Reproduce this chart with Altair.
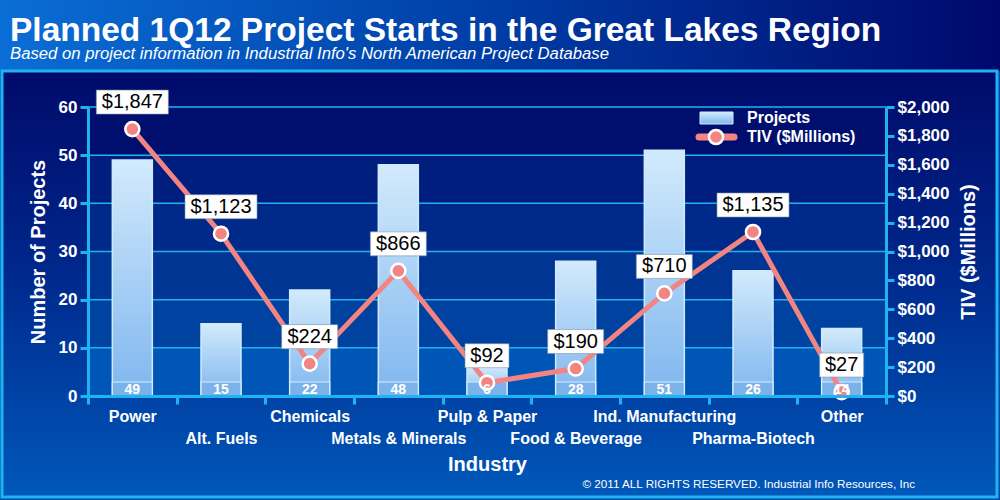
import json
import altair as alt
import pandas as pd

# ---------------- data ----------------
industries = ["Power", "Alt. Fuels", "Chemicals", "Metals & Minerals", "Pulp & Paper",
              "Food & Beverage", "Ind. Manufacturing", "Pharma-Biotech", "Other"]
projects = [49, 15, 22, 48, 6, 28, 51, 26, 14]
tiv = [1847, 1123, 224, 866, 92, 190, 710, 1135, 27]
left_ticks = [0, 10, 20, 30, 40, 50, 60]
right_ticks = [0, 200, 400, 600, 800, 1000, 1200, 1400, 1600, 1800, 2000]

title_text = "Planned 1Q12 Project Starts in the Great Lakes Region"
subtitle_text = "Based on project information in Industrial Info's North American Project Database"
copyright_text = "\u00a9 2011 ALL RIGHTS RESERVED. Industrial Info Resources, Inc"

# ---------------- style ----------------
W, H = 798, 289
PAD = {"left": 88, "top": 107, "right": 114, "bottom": 104}
FONT = "Liberation Sans, Arial, Helvetica, sans-serif"
CYAN = "#1fb4f0"
SALMON = "#f28482"
band_colors = ["#0056b6", "#00429f", "#003594", "#002a89", "#001e7d", "#000e6e"]

df = pd.DataFrame({"industry": industries, "projects": projects, "tiv": tiv})
one = pd.DataFrame({"a": [0]})
bands_df = pd.DataFrame({"start": left_ticks[:-1], "end": left_ticks[1:]})
grid_df = pd.DataFrame({"v": left_ticks[1:]})

odd_expr = ("indexof(" + json.dumps(industries) +
            ", datum.value) % 2 == 1 ? ['', datum.value] : datum.value")

AXIS_STYLE = dict(domainColor=CYAN, domainWidth=3, tickColor=CYAN, tickWidth=3, tickSize=8,
                  labelColor="white", labelFont=FONT, labelFontWeight="bold",
                  titleColor="white", titleFont=FONT, titleFontWeight="bold",
                  grid=False, zindex=2)

X = alt.X("industry:N", sort=industries,
          scale=alt.Scale(paddingInner=0, paddingOuter=0),
          axis=alt.Axis(title="Industry", labelExpr=odd_expr, labelAngle=0,
                        labelFontSize=16, labelLineHeight=22, labelPadding=4,
                        labelOverlap=False, tickBand="extent", titleFontSize=20,
                        titlePadding=8, **AXIS_STYLE))

YL_AXIS = alt.Axis(values=left_ticks, title="Number of Projects", orient="left",
                   labelFontSize=17, titleFontSize=20, labelPadding=3,
                   titlePadding=10, **AXIS_STYLE)
YR_AXIS = alt.Axis(values=right_ticks, format="$,d", title="TIV ($Millions)",
                   orient="right", labelFontSize=17, titleFontSize=20,
                   labelPadding=3, titlePadding=10, titleAngle=270,
                   titleBaseline="top", **AXIS_STYLE)


def YL(field):
    return alt.Y(field, scale=alt.Scale(domain=[0, 60], nice=False), axis=YL_AXIS)


def YR(field):
    return alt.Y(field, scale=alt.Scale(domain=[0, 2000], nice=False), axis=YR_AXIS)


def lin_grad(stops, horizontal=False):
    return alt.LinearGradient(
        gradient="linear",
        stops=[alt.GradientStop(offset=o, color=c) for o, c in stops],
        x1=0, y1=0, x2=1 if horizontal else 0, y2=0 if horizontal else 1)


# ---------------- backgrounds ----------------
title_band = alt.Chart(one).mark_rect(
    fill=lin_grad([(0, "#0a6ed6"), (0.45, "#0042aa"), (1, "#00086c")], horizontal=True)
).encode(x=alt.value(-88), x2=alt.value(912), y=alt.value(-107), y2=alt.value(-36))

panel = alt.Chart(one).mark_rect(
    fill=lin_grad([(0, "#000a6a"), (0.45, "#00268a"), (1, "#0058ba")]),
    stroke=CYAN, strokeWidth=3
).encode(x=alt.value(-86), x2=alt.value(909), y=alt.value(-36), y2=alt.value(390))

bands = alt.Chart(bands_df).mark_rect().encode(
    x=alt.value(0), x2=alt.value(W),
    y=YL("start:Q"), y2="end:Q",
    color=alt.Color("start:O", scale=alt.Scale(domain=left_ticks[:-1], range=band_colors),
                    legend=None))

grid = alt.Chart(grid_df).mark_rule(color=CYAN, strokeWidth=1.5).encode(
    x=alt.value(0), x2=alt.value(W), y=YL("v:Q"))

# ---------------- bars ----------------
bars = alt.Chart(df).mark_bar(
    width=40, fill=lin_grad([(0, "#d2eafc"), (1, "#7fb6ee")]),
    stroke="#cfeaff", strokeWidth=1.5
).encode(x=X, y=YL("projects:Q"))

count_box = alt.Chart(df).mark_bar(
    width=40, fill="#7cb2ea", stroke="#d6eeff", strokeWidth=1.2
).encode(x=X, y=alt.value(H - 14), y2=alt.value(H))

left_group = alt.layer(title_band, panel, bands, grid, bars, count_box)

# ---------------- TIV line ----------------
line = alt.Chart(df).mark_line(color=SALMON, strokeWidth=5).encode(x=X, y=YR("tiv:Q"))

points = alt.Chart(df).mark_circle(
    color=SALMON, stroke="white", strokeWidth=2.5, size=200, opacity=1
).encode(x=X, y=YR("tiv:Q"))

count_text = alt.Chart(df).mark_text(
    font=FONT, fontSize=14, fontWeight="bold", color="white", baseline="middle"
).encode(x=X, y=alt.value(H - 6), text="projects:Q")

lbl_base = alt.Chart(df).transform_calculate(
    n="length(format(datum.tiv, '$,d'))")
boxes = []
for n, w in [(6, 72), (4, 56), (3, 44)]:
    boxes.append(
        lbl_base.transform_filter(f"datum.n == {n}").mark_bar(
            width=w, fill="white", stroke="#8090a8", strokeWidth=0.6,
            yOffset=-39, y2Offset=-15
        ).encode(x=X, y=YR("tiv:Q"), y2="tiv:Q"))

box_text = alt.Chart(df).mark_text(
    font=FONT, fontSize=20, color="black", baseline="middle", dy=-27
).encode(x=X, y=YR("tiv:Q"), text=alt.Text("tiv:Q", format="$,d"))

# ---------------- legend ----------------
leg_bar = alt.Chart(one).mark_rect(
    fill=lin_grad([(0, "#d2eafc"), (1, "#7fb6ee")]), stroke="#cfeaff", strokeWidth=1
).encode(x=alt.value(612), x2=alt.value(645), y=alt.value(5), y2=alt.value(17))
leg_line = alt.Chart(one).mark_rule(color=SALMON, strokeWidth=7, strokeCap="round").encode(
    x=alt.value(611), x2=alt.value(646), y=alt.value(30))
leg_pt = alt.Chart(one).mark_circle(
    color=SALMON, stroke="white", strokeWidth=2.5, size=200, opacity=1
).encode(x=alt.value(628), y=alt.value(30))
leg_txt1 = alt.Chart(one).mark_text(
    text="Projects", font=FONT, fontSize=16, fontWeight="bold", color="white",
    align="left", baseline="middle").encode(x=alt.value(659), y=alt.value(11))
leg_txt2 = alt.Chart(one).mark_text(
    text="TIV ($Millions)", font=FONT, fontSize=16, fontWeight="bold", color="white",
    align="left", baseline="middle").encode(x=alt.value(659), y=alt.value(30))

# ---------------- titles ----------------
t_main = alt.Chart(one).mark_text(
    text=title_text, font=FONT, fontSize=33.5, fontWeight="bold", color="white",
    align="left", baseline="alphabetic").encode(x=alt.value(-78), y=alt.value(-66))
t_sub = alt.Chart(one).mark_text(
    text=subtitle_text, font=FONT, fontSize=16.7, fontStyle="italic", color="white",
    align="left", baseline="alphabetic").encode(x=alt.value(-78), y=alt.value(-48))
t_copy = alt.Chart(one).mark_text(
    text=copyright_text, font=FONT, fontSize=11.7, color="white",
    align="right", baseline="alphabetic").encode(x=alt.value(827), y=alt.value(381))

right_group = alt.layer(line, points, count_text, *boxes, box_text,
                        leg_bar, leg_line, leg_pt, leg_txt1, leg_txt2,
                        t_main, t_sub, t_copy)

chart = alt.layer(left_group, right_group).resolve_scale(
    y="independent"
).properties(
    width=W, height=H,
    autosize=alt.AutoSizeParams(type="none"),
    padding=PAD,
    background="#0046aa",
).configure_view(
    stroke=None
)

chart.save("out.html", embed_options={"renderer": "svg", "actions": False})
